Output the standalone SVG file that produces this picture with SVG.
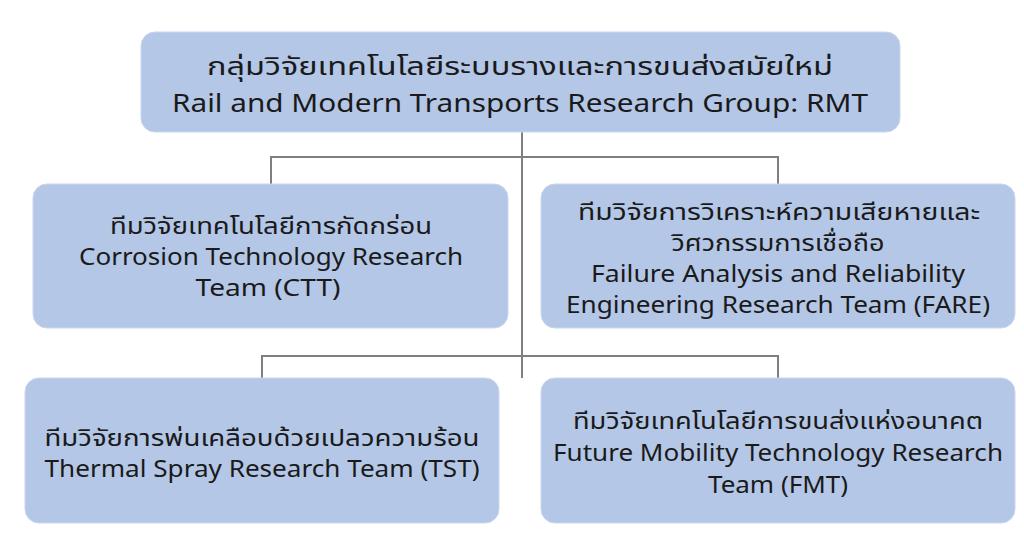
<svg xmlns="http://www.w3.org/2000/svg" width="1024" height="536" viewBox="0 0 1024 536">
<style>
.box{fill:#b4c7e7;stroke:#c9d6ee;stroke-width:1}
.t{font-family:"Noto Sans Thai","Noto Sans","Liberation Sans",sans-serif;fill:#1a1a1a;text-anchor:middle}
.c{font-size:25px}
.m{font-size:23px}
.b{font-size:23px}
.ln{fill:none;stroke:#7f7f7f;stroke-width:2}
</style>
<rect width="1024" height="536" fill="#ffffff"/>
<g id="connectors">
<path class="ln" d="M522 132 V378"/>
<path class="ln" d="M271 185 V157 H778 V185"/>
<path class="ln" d="M262 378 V356 H778 V378"/>
</g>
<g id="rmt">
<rect class="box" x="141" y="32" width="759" height="100" rx="14"/>
<text class="t c" x="520" y="75" textLength="626" lengthAdjust="spacingAndGlyphs">กลุ่มวิจัยเทคโนโลยีระบบรางและการขนส่งสมัยใหม่</text>
<text class="t c" x="520" y="112" textLength="696" lengthAdjust="spacingAndGlyphs">Rail and Modern Transports Research Group: RMT</text>
</g>
<g id="ctt">
<rect class="box" x="33" y="184" width="475" height="144" rx="14"/>
<text class="t m" x="271" y="234" textLength="322" lengthAdjust="spacingAndGlyphs">ทีมวิจัยเทคโนโลยีการกัดกร่อน</text>
<text class="t m" x="271" y="265" textLength="384" lengthAdjust="spacingAndGlyphs">Corrosion Technology Research</text>
<text class="t m" x="268" y="296" textLength="145" lengthAdjust="spacingAndGlyphs">Team (CTT)</text>
</g>
<g id="fare">
<rect class="box" x="541" y="184" width="474" height="144" rx="14"/>
<text class="t m" x="779" y="220" textLength="402" lengthAdjust="spacingAndGlyphs">ทีมวิจัยการวิเคราะห์ความเสียหายและ</text>
<text class="t m" x="778" y="251" textLength="213" lengthAdjust="spacingAndGlyphs">วิศวกรรมการเชื่อถือ</text>
<text class="t m" x="778" y="282" textLength="374" lengthAdjust="spacingAndGlyphs">Failure Analysis and Reliability</text>
<text class="t m" x="778" y="313" textLength="424" lengthAdjust="spacingAndGlyphs">Engineering Research Team (FARE)</text>
</g>
<g id="tst">
<rect class="box" x="25" y="378" width="474" height="145" rx="14"/>
<text class="t b" x="262" y="446" textLength="435" lengthAdjust="spacingAndGlyphs">ทีมวิจัยการพ่นเคลือบด้วยเปลวความร้อน</text>
<text class="t b" x="262" y="477" textLength="435" lengthAdjust="spacingAndGlyphs">Thermal Spray Research Team (TST)</text>
</g>
<g id="fmt">
<rect class="box" x="541" y="378" width="474" height="145" rx="14"/>
<text class="t b" x="778" y="429" textLength="410" lengthAdjust="spacingAndGlyphs">ทีมวิจัยเทคโนโลยีการขนส่งแห่งอนาคต</text>
<text class="t b" x="778" y="461" textLength="450" lengthAdjust="spacingAndGlyphs">Future Mobility Technology Research</text>
<text class="t b" x="778" y="493" textLength="140" lengthAdjust="spacingAndGlyphs">Team (FMT)</text>
</g>
</svg>
